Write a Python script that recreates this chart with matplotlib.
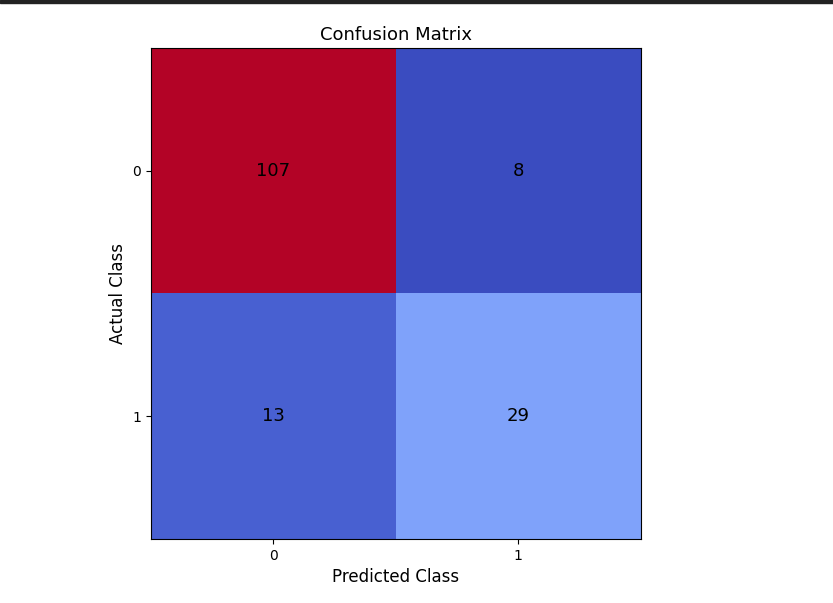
import numpy as np
import matplotlib
matplotlib.use("Agg")
import matplotlib.pyplot as plt

classes = ["0", "1"]
cm = np.array([[107, 8],
               [13, 29]])

fig = plt.figure(figsize=(8.33, 6.03), dpi=100)
ax = fig.add_axes([0.181, 0.106, 0.588, 0.814])
ax.imshow(cm, cmap="coolwarm", aspect="auto")

for i in range(cm.shape[0]):
    for j in range(cm.shape[1]):
        ax.text(j, i, str(cm[i, j]), ha="center", va="center", fontsize=13, color="black")

ax.set_xticks(range(len(classes)))
ax.set_xticklabels(classes)
ax.set_yticks(range(len(classes)))
ax.set_yticklabels(classes)
ax.set_xlabel("Predicted Class", fontsize=12)
ax.set_ylabel("Actual Class", fontsize=12)
ax.set_title("Confusion Matrix", fontsize=13)

# dark strip along the top edge of the screenshot
fig.patches.append(plt.Rectangle((0, 0.995), 1, 0.005, transform=fig.transFigure,
                                 color="#222222", zorder=10))

fig.savefig("out.png", dpi=100)
